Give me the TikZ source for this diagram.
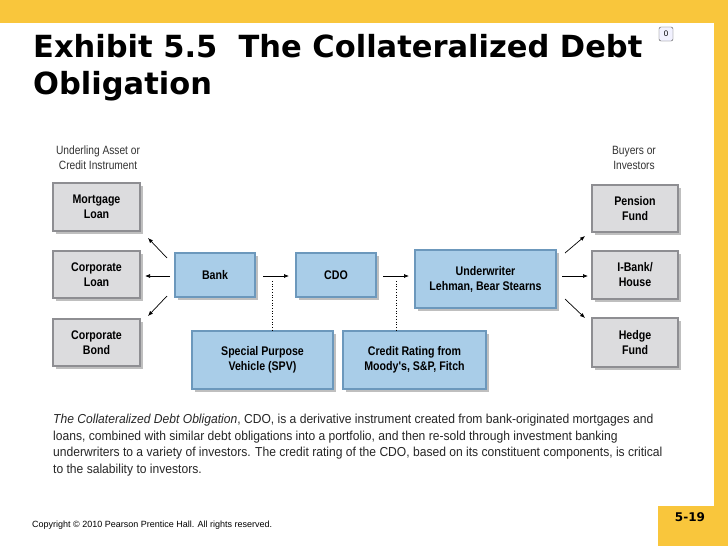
\documentclass[tikz,border=0pt]{standalone}
\usepackage{fontspec}
\setmainfont{Liberation Sans}
\newfontfamily\titlefont{DejaVu Sans}
\newfontfamily\cond[FakeStretch=0.85]{Liberation Sans}
\newfontfamily\condb[FakeStretch=0.93]{Liberation Sans}
\usetikzlibrary{arrows.meta}
\definecolor{slideyellow}{rgb}{0.976,0.776,0.235}
\definecolor{bluebox}{HTML}{A9CDE8}
\definecolor{blueedge}{HTML}{6C98BC}
\definecolor{greybox}{HTML}{DCDCDE}
\definecolor{greyedge}{HTML}{8E8E92}
\tikzset{
  bbox/.style={draw=blueedge, fill=bluebox, line width=1.2pt, inner sep=0pt, align=center, font=\cond\bfseries\fontsize{12.5}{15}\selectfont},
  gbox/.style={draw=greyedge, fill=greybox, line width=1.2pt, inner sep=0pt, align=center, font=\cond\bfseries\fontsize{12.5}{15}\selectfont},
  arr/.style={-{Latex[length=5pt,width=4pt]}, line width=0.7pt},
  dot/.style={dotted, line width=0.7pt},
  lab/.style={align=center, font=\cond\fontsize{12}{15}\selectfont, text=black!80}
}
\begin{document}
\begin{tikzpicture}[x=1pt,y=-1pt]
\useasboundingbox (0,0) rectangle (728,546);
\fill[white] (0,0) rectangle (728,546);
\fill[slideyellow] (0,0) rectangle (728,23);
\fill[slideyellow] (714,0) rectangle (728,546);
\fill[slideyellow] (658,506) rectangle (728,546);
\node[anchor=base west, font=\titlefont\bfseries\fontsize{30.5}{33}\selectfont, inner sep=0pt] (t1) at (33,57) {Exhibit 5.5\ \ The Collateralized Debt};
\node[anchor=base west, font=\titlefont\bfseries\fontsize{30.5}{33}\selectfont, inner sep=0pt] (t2) at (33,94) {Obligation};
\node[draw=black!70, fill=blue!5, rounded corners=2pt, minimum width=14pt, minimum height=14pt, inner sep=0pt, font=\fontsize{8}{8}\selectfont] (ic) at (666,34) {0};

\node[lab] (l1) at (98,158) {Underling Asset or\\Credit Instrument};
\node[lab] (l2) at (634,158) {Buyers or\\Investors};

\foreach \a/\b/\c/\d in {53/183/140/231,53/251/140/298,53/319/140/366,592/185/678/232,592/251/678/299,592/318/678/367,175/253/255/297,296/253/376/297,415/250/556/308,192/331/333/389,343/331/486/389}
  \fill[black!25] (\a+3,\b+3) rectangle (\c+3,\d+3);

\node[gbox, minimum width=87pt, minimum height=48pt] (ml) at (96.5,207) {Mortgage\\Loan};
\node[gbox, minimum width=87pt, minimum height=47pt] (cl) at (96.5,274.5) {Corporate\\Loan};
\node[gbox, minimum width=87pt, minimum height=47pt] (cb) at (96.5,342.5) {Corporate\\Bond};
\node[gbox, minimum width=86pt, minimum height=47pt] (pf) at (635,208.5) {Pension\\Fund};
\node[gbox, minimum width=86pt, minimum height=48pt] (ib) at (635,275) {I-Bank/\\House};
\node[gbox, minimum width=86pt, minimum height=49pt] (hf) at (635,342.5) {Hedge\\Fund};
\node[bbox, minimum width=80pt, minimum height=44pt] (bank) at (215,275) {Bank};
\node[bbox, minimum width=80pt, minimum height=44pt] (cdo) at (336,275) {CDO};
\node[bbox, minimum width=141pt, minimum height=58pt] (uw) at (485.5,279) {Underwriter\\Lehman, Bear Stearns};
\node[bbox, minimum width=141pt, minimum height=58pt] (spv) at (262.5,360) {Special Purpose\\Vehicle (SPV)};
\node[bbox, minimum width=143pt, minimum height=58pt] (cr) at (414.5,360) {Credit Rating from\\Moody's, S\&P, Fitch};

\coordinate (a1s) at (167,258); \coordinate (a1e) at (148,238);
\coordinate (a2s) at (170,276); \coordinate (a2e) at (145,276);
\coordinate (a3s) at (167,296); \coordinate (a3e) at (148,316);
\coordinate (b1s) at (263,276); \coordinate (b1e) at (289,276);
\coordinate (b2s) at (383,276); \coordinate (b2e) at (409,276);
\coordinate (c1s) at (565,253); \coordinate (c1e) at (585,236);
\coordinate (c2s) at (562,276); \coordinate (c2e) at (588,276);
\coordinate (c3s) at (565,299); \coordinate (c3e) at (585,318);
\foreach \p in {a1,a2,a3,b1,b2,c1,c2,c3} \draw[arr] (\p s) -- (\p e);
\coordinate (d1) at (272,281); \coordinate (d2) at (396,281);
\draw[dot] (d1) -- (d1 |- spv.north);
\draw[dot] (d2) -- (d2 |- cr.north);

\node[anchor=north west, inner sep=0pt, align=left, font=\condb\fontsize{13}{16.5}\selectfont, text=black!85] (para) at (53,414) {\textit{The Collateralized Debt Obligation}, CDO, is a derivative instrument created from bank-originated mortgages and\\loans, combined with similar debt obligations into a portfolio, and then re-sold through investment banking\\underwriters to a variety of investors. The credit rating of the CDO, based on its constituent components, is critical\\to the salability to investors.};
\node[anchor=base west, inner sep=0pt, font=\fontsize{9}{10}\selectfont] (copy) at (32,527) {Copyright \textcopyright\ 2010 Pearson Prentice Hall. All rights reserved.};
\node[anchor=base, inner sep=0pt, font=\titlefont\bfseries\fontsize{12}{12}\selectfont] (pg) at (690,521) {5-19};
\end{tikzpicture}
\end{document}
